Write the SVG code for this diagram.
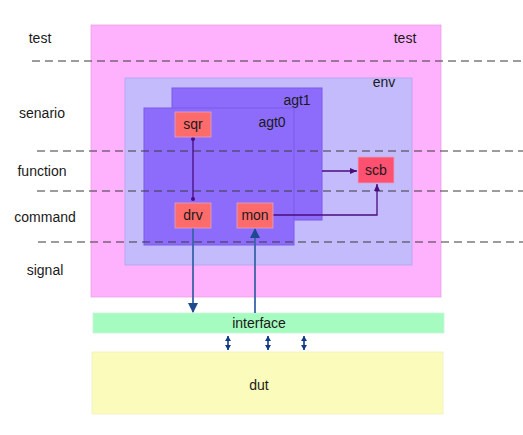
<svg xmlns="http://www.w3.org/2000/svg" width="523" height="435" viewBox="0 0 523 435">
<style>
text{font-family:"Liberation Sans",Arial,sans-serif;font-size:14px;fill:#1a1a1a}
.c{text-anchor:middle}
.dash{stroke:#3a3a3a;stroke-width:1.1;stroke-dasharray:8 5;fill:none}
.node{fill:#fe6b6b;stroke:#e0a0c0;stroke-width:0.8}
.agt{fill:#8d6cfc;stroke:#7a5ae6;stroke-width:1}
.pl{stroke:#4b0c7e;stroke-width:1.3;fill:none}
.bl{stroke:#3a64a8;stroke-width:1.8;fill:none}
.dk{stroke:#0e3a86;stroke-width:1.6;fill:none}
</style>
<defs>
<marker id="ap" markerWidth="8" markerHeight="8" refX="7" refY="4" orient="auto" markerUnits="userSpaceOnUse"><path d="M0,1 L7,4 L0,7 Z" fill="#4b0c7e"/></marker>
<marker id="dot" markerWidth="5" markerHeight="5" refX="2.5" refY="2.5" orient="auto" markerUnits="userSpaceOnUse"><circle cx="2.5" cy="2.5" r="2" fill="#4b0c7e"/></marker>
<marker id="ab" markerWidth="10" markerHeight="12" refX="9" refY="5" orient="auto" markerUnits="userSpaceOnUse"><path d="M0,0 L10,5 L0,10 Z" fill="#1d4a8e"/></marker>
<marker id="ad" markerWidth="6" markerHeight="7" refX="5" refY="3" orient="auto-start-reverse" markerUnits="userSpaceOnUse"><path d="M0,0 L5,3 L0,6 Z" fill="#0e3a86"/></marker>
</defs>
<rect width="523" height="435" fill="#fff"/>
<g id="layer-labels">
<text x="40" y="43" class="c">test</text>
<text x="42" y="118" class="c">senario</text>
<text x="42" y="176" class="c">function</text>
<text x="45" y="222" class="c">command</text>
<text x="45" y="275" class="c">signal</text>
</g>
<g id="test"><rect x="91" y="25" width="350" height="272" fill="#feb1fc" stroke="#eaa0e8" stroke-width="0.8"/><text x="405" y="43" class="c">test</text></g>
<g id="env"><rect x="125" y="78" width="287" height="187" fill="#c3bbfc" stroke="#b0a6ee" stroke-width="0.8"/><text x="384" y="87" class="c">env</text></g>
<g id="agt1"><rect class="agt" x="172" y="88" width="150" height="132"/><text x="297" y="105" class="c">agt1</text></g>
<g id="agt0"><rect class="agt" x="144" y="108" width="150" height="137"/><text x="272" y="127" class="c">agt0</text></g>
<g id="dashes">
<line class="dash" x1="32" y1="61" x2="523" y2="61"/>
<line class="dash" x1="37" y1="151" x2="523" y2="151"/>
<line class="dash" x1="37" y1="191" x2="523" y2="191"/>
<line class="dash" x1="38" y1="242" x2="523" y2="242"/>
</g>
<g id="interface"><rect x="93" y="313" width="351" height="20" fill="#a6fcc0" stroke="#c8f5d8" stroke-width="0.8"/><text x="259" y="328" class="c">interface</text></g>
<g id="dut"><rect x="92" y="352" width="351" height="62" fill="#fbfcbc" stroke="#f0f0c0" stroke-width="0.8"/><text x="259" y="390" class="c">dut</text></g>
<g id="connectors">
<line class="pl" x1="193" y1="139" x2="193" y2="199" marker-start="url(#dot)" marker-end="url(#dot)"/>
<line class="pl" x1="322" y1="171" x2="357" y2="171" marker-end="url(#ap)"/>
<polyline class="pl" points="273,215 377,215 377,184" marker-end="url(#ap)"/>
<line class="bl" x1="193" y1="228" x2="193" y2="312" marker-end="url(#ab)"/>
<line class="bl" x1="255" y1="313" x2="255" y2="229" marker-end="url(#ab)"/>
<line class="dk" x1="228" y1="336" x2="228" y2="350" marker-start="url(#ad)" marker-end="url(#ad)"/>
<line class="dk" x1="268" y1="336" x2="268" y2="350" marker-start="url(#ad)" marker-end="url(#ad)"/>
<line class="dk" x1="304" y1="336" x2="304" y2="350" marker-start="url(#ad)" marker-end="url(#ad)"/>
</g>
<g id="sqr"><rect class="node" x="175" y="112" width="36" height="25"/><text x="193" y="129" class="c">sqr</text></g>
<g id="drv"><rect class="node" x="175" y="203" width="36" height="25"/><text x="193" y="220" class="c">drv</text></g>
<g id="mon"><rect class="node" x="237" y="203" width="36" height="25"/><text x="255" y="220" class="c">mon</text></g>
<g id="scb"><rect x="358" y="157" width="36" height="26" fill="#fe5070" stroke="#e0a0c0" stroke-width="0.8"/><text x="376" y="175" class="c">scb</text></g>
</svg>
